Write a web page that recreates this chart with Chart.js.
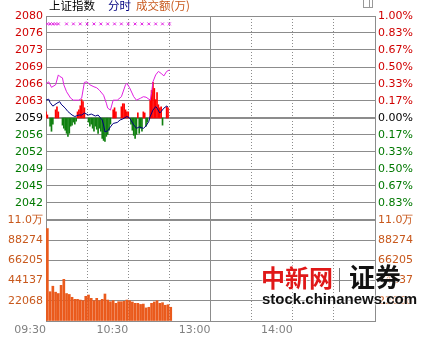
<!DOCTYPE html>
<html>
<head>
<meta charset="utf-8">
<script src="https://cdn.jsdelivr.net/npm/chart.js@4.4.0/dist/chart.umd.min.js"></script>
<style>
  body { margin: 0; background: #fff; }
  #wrap { position: relative; width: 421px; height: 338px; overflow: hidden; }
  #chart { position: absolute; left: 0; top: 0; }
  .ttl { position: absolute; top: -1px; font: 11.5px/12px "Noto Sans CJK SC"; white-space: nowrap; }
  #icon { position: absolute; left: 363px; top: -1px; width: 8px; height: 7px; border: 1px solid #999; }
  #icon:after { content: ""; position: absolute; left: 5px; top: 0; width: 1px; height: 7px; background: #999; }
  .mk { position: absolute; white-space: nowrap;
        text-shadow: 0 0 2px #fff, 0 0 2px #fff, 0 0 3px #fff; }
  #mk-cn { left: 261px; top: 262px; font: bold 24px/30px "Noto Sans CJK SC"; color: #e01818; }
  #mk-bar { left: 339px; top: 268px; width: 1px; height: 24px; background: #777; }
  #mk-sec { left: 349px; top: 261px; font: bold 26px/30px "Noto Sans CJK SC"; color: #111; }
  #mk-url { left: 262px; top: 290px; font: bold 15px/18px "Liberation Sans"; color: #111; }
</style>
</head>
<body>
<div id="wrap">
  <canvas id="chart" width="421" height="338"></canvas>
  <div class="ttl" style="left:49px;color:#000">上证指数</div>
  <div class="ttl" style="left:108px;color:#000080">分时</div>
  <div class="ttl" style="left:136px;color:#c8581c">成交额(万)</div>
  <div id="icon"></div>
  <div class="mk" id="mk-cn">中新网</div>
  <div class="mk" id="mk-bar"></div>
  <div class="mk" id="mk-sec">证券</div>
  <div class="mk" id="mk-url">stock.chinanews.com</div>
</div>
<script>
// minutes counted from 09:30, lunch break removed (120 = 13:00)
const prevClose = 2059.5;

const priceLabels = ['2080', '2076', '2073', '2069', '2066', '2063', '2059', '2056', '2052', '2049', '2045', '2042', ''];
const pctLabels = ['1.00%', '0.83%', '0.67%', '0.50%', '0.33%', '0.17%', '0.00%', '0.17%', '0.33%', '0.50%', '0.67%', '0.83%', ''];
const volTicks = [0, 22068, 44137, 66205, 88274, 110342];
const volLabels = ['', '22068', '44137', '66205', '88274', '11.0万'];
const timeTicks = [0, 30, 60, 90, 120, 150, 180, 210, 240];
const timeLabels = ['09:30', '', '10:30', '', '13:00', '', '14:00', '', ''];

// index (navy line)
const indexMinutes = [0, 2, 3, 5, 8, 10, 11, 14, 16, 19, 21, 24, 26, 28, 31, 33, 36, 38, 41, 42, 43, 45, 47, 49, 52, 54, 56, 59, 61, 64, 66, 68, 71, 73, 75, 76, 78, 80, 81, 83, 84, 86, 88, 89];
const indexPrices = [2063.1, 2063.3, 2062.6, 2061.9, 2062.5, 2062.8, 2062.3, 2061.5, 2060.8, 2060.1, 2059.8, 2060.1, 2060.1, 2060.5, 2060.1, 2060.3, 2059.9, 2060.1, 2059.1, 2058.1, 2056.7, 2056.9, 2057.7, 2058.4, 2058.6, 2059.1, 2059.3, 2059.8, 2059.5, 2058.1, 2057.4, 2057.7, 2057.4, 2057.9, 2058.8, 2059.8, 2061.1, 2061.8, 2061.5, 2060.5, 2060.8, 2061.5, 2061.9, 2061.7];

// lead line (magenta)
const leadMinutes = [0, 2, 4, 7, 9, 10, 12, 13, 15, 18, 20, 24, 26, 28, 30, 32, 35, 37, 39, 42, 44, 45, 47, 49, 52, 55, 58, 59, 61, 64, 66, 69, 71, 73, 76, 77, 78, 80, 82, 84, 86, 88, 90];
const leadPrices = [2066.4, 2066.8, 2065.7, 2066.2, 2068.2, 2067.9, 2067.6, 2066.2, 2064.8, 2063.5, 2063.1, 2063.1, 2063.5, 2066.7, 2066.8, 2066.2, 2065.8, 2065.6, 2065.1, 2064.1, 2062.5, 2061.5, 2061.1, 2063.1, 2063.1, 2063.8, 2066.2, 2066.5, 2065.6, 2063.8, 2063.1, 2063.5, 2063.8, 2063.7, 2063.1, 2064.6, 2066.8, 2068.2, 2068.9, 2068.5, 2068.0, 2068.9, 2069.2];

// buy / sell strength bars (%)
const flowMinutes = [0, 1, 3, 4, 5, 7, 8, 9, 12, 13, 14, 15, 16, 17, 18, 19, 20, 21, 22, 23, 24, 25, 26, 27, 28, 31, 32, 33, 34, 35, 36, 37, 38, 39, 40, 41, 42, 43, 44, 45, 46, 47, 49, 50, 51, 55, 56, 57, 58, 59, 60, 62, 63, 64, 65, 66, 67, 68, 69, 70, 71, 72, 73, 74, 76, 77, 78, 79, 80, 81, 82, 83, 84, 85, 88, 89];
const flowValues = [0.06, 0.03, -0.08, -0.13, -0.06, 0.08, 0.11, 0.06, -0.07, -0.1, -0.12, -0.15, -0.18, -0.15, -0.08, -0.07, -0.04, -0.06, -0.03, 0.06, 0.08, 0.12, 0.18, 0.16, 0.1, -0.04, -0.08, -0.06, -0.1, -0.13, -0.08, -0.11, -0.15, -0.1, -0.13, -0.2, -0.22, -0.23, -0.18, -0.16, -0.12, -0.06, 0.08, 0.1, 0.06, 0.11, 0.14, 0.14, 0.08, 0.06, 0.06, -0.06, -0.12, -0.17, -0.2, -0.16, 0.05, -0.15, -0.1, -0.13, 0.06, 0.05, -0.08, -0.04, 0.18, 0.27, 0.35, 0.29, 0.18, 0.25, 0.13, 0.1, 0.11, -0.07, 0.11, 0.1];

// turnover (万)
const volMinutes = [1, 3, 5, 7, 9, 11, 13, 15, 17, 19, 21, 23, 25, 27, 29, 31, 33, 35, 37, 39, 41, 43, 45, 47, 49, 51, 53, 55, 57, 59, 61, 63, 65, 67, 69, 71, 73, 75, 77, 79, 81, 83, 85, 87, 89, 91];
const volValues = [101000, 32000, 38000, 31500, 30000, 39000, 45500, 30000, 29000, 25900, 23700, 23700, 22900, 22200, 27000, 28400, 24800, 22200, 24800, 22200, 23700, 29500, 22900, 21100, 22200, 19300, 21100, 21100, 21500, 22900, 22200, 20800, 19300, 19300, 18100, 18500, 14300, 15000, 19300, 20800, 22200, 19300, 20000, 17200, 17800, 15000];

// flag marks along the top
const flagMinutes = [1, 3, 5, 7, 9, 15, 20, 25, 30, 35, 40, 45, 50, 55, 60, 65, 70, 75, 80, 85, 90];
const flagLevel = 2078.5;

const RED = '#d00000';
const GREEN = '#007800';
const BLACK = '#000000';
const ORANGE = '#c8581c';
const GRID = '#8c8c8c';
const tickFont = { family: 'DejaVu Sans', size: 11 };

function pairs(xs, ys) {
  return xs.map((x, i) => ({ x: x, y: ys[i] }));
}

function signColor(idx) {
  // idx counted from the top label
  if (idx < 6) return RED;
  if (idx === 6) return BLACK;
  return GREEN;
}

const priceSteps = [-6, -5, -4, -3, -2, -1, 0, 1, 2, 3, 4, 5, 6];

const ctx = document.getElementById('chart').getContext('2d');
new Chart(ctx, {
  type: 'line',
  data: {
    datasets: [
      {
        type: 'line',
        data: pairs(indexMinutes, indexPrices),
        yAxisID: 'yPrice',
        borderColor: '#000080',
        borderWidth: 1,
        pointRadius: 0,
        tension: 0
      },
      {
        type: 'line',
        data: pairs(leadMinutes, leadPrices),
        yAxisID: 'yPrice',
        borderColor: '#e020e0',
        borderWidth: 1,
        pointRadius: 0,
        tension: 0
      },
      {
        type: 'line',
        data: flagMinutes.map(m => ({ x: m, y: flagLevel })),
        yAxisID: 'yPrice',
        showLine: false,
        pointStyle: 'crossRot',
        pointRadius: 2,
        borderColor: '#e020e0',
        borderWidth: 1
      },
      {
        type: 'bar',
        data: pairs(flowMinutes, flowValues),
        yAxisID: 'yPct',
        grouped: false,
        barThickness: 1,
        backgroundColor: c => (c.raw && c.raw.y < 0) ? '#108010' : '#ff0000'
      },
      {
        type: 'bar',
        data: pairs(volMinutes, volValues),
        yAxisID: 'yVol',
        grouped: false,
        barThickness: 2,
        backgroundColor: '#ea5a1c'
      }
    ]
  },
  options: {
    responsive: false,
    animation: false,
    layout: { padding: { top: 16, left: 0, right: 0, bottom: 0 } },
    plugins: { legend: { display: false }, tooltip: { enabled: false } },
    scales: {
      x: {
        type: 'linear',
        min: 0,
        max: 240,
        offset: false,
        afterBuildTicks: s => { s.ticks = timeTicks.map(v => ({ value: v })); },
        afterFit: s => { s.height = 17; },
        ticks: {
          autoSkip: false,
          maxRotation: 0,
          align: 'end',
          padding: 3,
          color: '#808080',
          font: tickFont,
          callback: (v, i) => timeLabels[i]
        },
        grid: {
          drawTicks: false,
          offset: false,
          color: c => (c.tick && (c.tick.value === 0 || c.tick.value === 240)) ? 'rgba(0,0,0,0)' : GRID
        },
        border: {
          color: GRID,
          dash: c => (c.type === 'tick' && c.tick.value !== 120) ? [1, 2] : []
        }
      },
      yPrice: {
        type: 'linear',
        position: 'left',
        stack: 'panel',
        stackWeight: 204,
        weight: 1,
        min: prevClose * 0.99,
        max: prevClose * 1.01,
        afterBuildTicks: s => { s.ticks = priceSteps.map(k => ({ value: prevClose * (1 + k / 600) })); },
        afterFit: s => { s.width = 46; },
        ticks: {
          autoSkip: false,
          padding: 3,
          font: tickFont,
          color: c => signColor(12 - c.index),
          callback: (v, i) => priceLabels[12 - i]
        },
        grid: {
          drawTicks: false,
          color: GRID,
          lineWidth: c => (c.index === 0 || c.index === 6) ? 2 : 1
        },
        border: { color: GRID }
      },
      yVol: {
        type: 'linear',
        position: 'left',
        stack: 'panel',
        stackWeight: 101,
        weight: 0,
        min: 0,
        max: volTicks[volTicks.length - 1],
        afterBuildTicks: s => { s.ticks = volTicks.map(v => ({ value: v })); },
        afterFit: s => { s.width = 46; },
        ticks: {
          autoSkip: false,
          padding: 3,
          font: tickFont,
          color: ORANGE,
          callback: (v, i) => volLabels[i]
        },
        grid: {
          drawTicks: false,
          color: c => (c.index === 0 || c.index === volTicks.length - 1) ? 'rgba(0,0,0,0)' : GRID
        },
        border: { color: GRID }
      },
      yPct: {
        type: 'linear',
        position: 'right',
        stack: 'panel',
        stackWeight: 204,
        weight: 0,
        min: -1,
        max: 1,
        afterBuildTicks: s => { s.ticks = priceSteps.map(k => ({ value: k / 6 })); },
        afterFit: s => { s.width = 46; },
        ticks: {
          autoSkip: false,
          padding: 3,
          font: tickFont,
          color: c => signColor(12 - c.index),
          callback: (v, i) => pctLabels[12 - i]
        },
        grid: { display: false, drawTicks: false },
        border: { color: GRID }
      },
      yVolR: {
        type: 'linear',
        position: 'right',
        stack: 'panel',
        stackWeight: 101,
        weight: 1,
        min: 0,
        max: volTicks[volTicks.length - 1],
        afterBuildTicks: s => { s.ticks = volTicks.map(v => ({ value: v })); },
        afterFit: s => { s.width = 46; },
        ticks: {
          autoSkip: false,
          padding: 3,
          font: tickFont,
          color: ORANGE,
          callback: (v, i) => volLabels[i]
        },
        grid: { display: false, drawTicks: false },
        border: { color: GRID }
      }
    }
  }
});
</script>
</body>
</html>
